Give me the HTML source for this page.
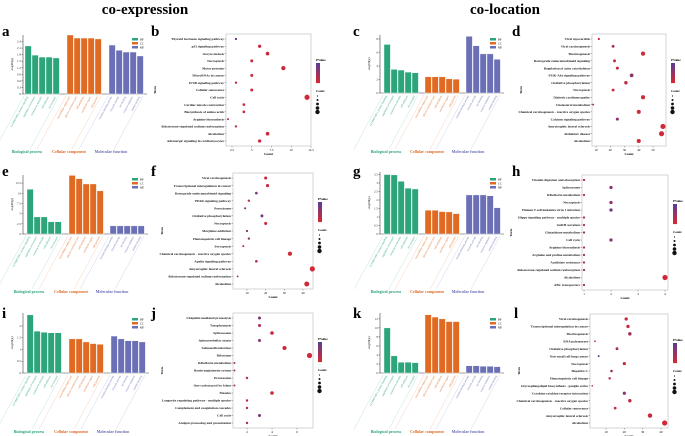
<!DOCTYPE html>
<html><head><meta charset="utf-8"><style>
html,body{margin:0;padding:0;background:#fff;}
svg{display:block;font-family:"Liberation Serif",serif;}
</style></head><body>
<svg id="fig" width="685" height="436" viewBox="0 0 685 436">
<text x="145" y="14" font-size="15" font-weight="bold" text-anchor="middle">co-expression</text>
<text x="505" y="14" font-size="15" font-weight="bold" text-anchor="middle">co-location</text>
</svg>
<script>
// ---- bar chart data (-log10 p) ----
const aBP=[2.2,1.78,1.69,1.69,1.65], aCC=[2.7,2.56,2.56,2.56,2.52], aMF=[2.24,2.0,1.92,1.92,1.74];
const cBP=[7.2,3.5,3.4,3.1,3.0], cCC=[2.4,2.4,2.4,2.1,2.05], cMF=[8.4,7.0,5.8,5.8,5.0];
const eBP=[11,4.2,4.2,3.0,3.0], eCC=[14.4,13.6,12.3,12.3,10.6], eMF=[2.0,2.0,2.0,2.0,2.0];
const gBP=[3.5,3.48,3.1,2.7,2.65], gCC=[1.4,1.4,1.32,1.3,1.2], gMF=[2.3,2.3,2.3,2.25,1.55];
const iBP=[2.47,1.78,1.73,1.71,1.71], iCC=[1.45,1.45,1.32,1.25,1.22], iMF=[1.57,1.45,1.37,1.37,1.32];
const kBP=[10,3.8,2.4,2.4,2.3], kCC=[12.9,12.4,12,11.4,11.4], kMF=[1.6,1.6,1.5,1.5,1.4];
const aTicks=[0,0.3,0.6,0.9,1.2,1.5,1.8,2.1,2.4], cTicks=[0,2,4,6,8], eTicks=[0,2.5,5,7.5,10,12.5];
const gTicks=[0,0.5,1,1.5,2,2.5,3,3.5], iTicks=[0,0.5,1,1.5,2], kTicks=[0,2,4,6,8,10,12];
const goBP=["GO:0007186 G protein signaling","regulation of transport","response to stimulus","cell adhesion","ion transport"];
const goCC=["extracellular region part","plasma membrane part","cell periphery","membrane region","cell junction"];
const goMF=["receptor binding activity","channel activity","ion binding","enzyme regulator","protein binding"];
// ---- dot plot data ----
const bTerms=["Thyroid hormone signaling pathway","p53 signaling pathway","Oocyte meiosis","Necroptosis","Motor proteins","MicroRNAs in cancer","ErbB signaling pathway","Cellular senescence","Cell cycle","Cardiac muscle contraction","Biosynthesis of amino acids","Arginine biosynthesis","Aldosterone-regulated sodium reabsorption","Alcoholism","Adrenergic signaling in cardiomyocytes"];
const bCount=[3,6,7,5,9,5,3,5,12,4,4,2,3,7,6];
const bP=[0.9,0.1,0.1,0.1,0.1,0.1,0.15,0.1,0.05,0.1,0.1,0.3,0.15,0.1,0.1];
const bTicks=[2.5,5.0,7.5,10.0,12.5];
const dTerms=["Viral myocarditis","Viral carcinogenesis","Thermogenesis","Retrograde endocannabinoid signaling","Regulation of actin cytoskeleton","PI3K-Akt signaling pathway","Oxidative phosphorylation","Necroptosis","Diabetic cardiomyopathy","Cholesterol metabolism","Chemical carcinogenesis - reactive oxygen species","Calcium signaling pathway","Amyotrophic lateral sclerosis","Alzheimer disease","Alcoholism"];
const dCount=[12,22,43,23,25,35,31,22,43,8,40,25,57,56,40];
const dP=[0.1,0.3,0.05,0.1,0.15,0.6,0.2,0.1,0.05,0.4,0.05,0.6,0.05,0.05,0.05];
const dTicks=[10,20,30,40,50];
const fTerms=["Viral carcinogenesis","Transcriptional misregulation in cancer","Retrograde endocannabinoid signaling","PPAR signaling pathway","Peroxisome","Oxidative phosphorylation","Necroptosis","Morphine addiction","Hematopoietic cell lineage","Ferroptosis","Chemical carcinogenesis - reactive oxygen species","Apelin signaling pathway","Amyotrophic lateral sclerosis","Aldosterone-regulated sodium reabsorption","Alcoholism"];
const fCount=[20,21,15,11,9,18,20,10,11,8,33,15,45,5,42];
const fP=[0.1,0.1,0.7,0.2,0.7,0.8,0.1,0.6,0.5,0.1,0.05,0.3,0.05,0.6,0.05];
const fTicks=[10,20,30,40];
const hTerms=["Vitamin digestion and absorption","Spliceosome","Riboflavin metabolism","Necroptosis","Human T-cell leukemia virus 1 infection","Hippo signaling pathway - multiple species","GnRH secretion","Glutathione metabolism","Cell cycle","Arginine biosynthesis","Arginine and proline metabolism","Antifolate resistance","Aldosterone-regulated sodium reabsorption","Alcoholism","ABC transporters"];
const hCount=[1,2,1,2,2,1,1,1,2,1,1,1,1,4,1];
const hP=[0.3,0.6,0.3,0.6,0.8,0.3,0.3,0.5,0.6,0.3,0.4,0.3,0.4,0.05,0.4];
const hTicks=[1,2,3,4];
const jTerms=["Ubiquitin mediated proteolysis","Toxoplasmosis","Spliceosome","Spinocerebellar ataxia","Salmonella infection","Ribosome","Riboflavin metabolism","Renin-angiotensin system","Proteasome","One carbon pool by folate","Measles","Longevity regulating pathway - multiple species","Complement and coagulation cascades","Cell cycle","Antigen processing and presentation"];
const jCount=[3,3,4,3,5,7,1,1,2,1,4,2,2,3,2];
const jP=[0.7,0.3,0.1,0.6,0.1,0.05,0.4,0.5,0.2,0.5,0.1,0.3,0.3,0.7,0.3];
const jTicks=[2,4,6];
const lTerms=["Viral carcinogenesis","Transcriptional misregulation in cancer","Thermogenesis","RNA polymerase","Oxidative phosphorylation","Non-small cell lung cancer","Necroptosis","Hepatitis C","Hematopoietic cell lineage","Glycosphingolipid biosynthesis - ganglio series","Cytokine-cytokine receptor interaction","Chemical carcinogenesis - reactive oxygen species","Cellular senescence","Amyotrophic lateral sclerosis","Alcoholism"];
const lCount=[21,22,23,4,16,6,20,13,12,2.5,20,23,15,34,42];
const lP=[0.1,0.1,0.4,0.2,0.4,0.9,0.1,0.5,0.2,0.3,0.6,0.2,0.1,0.1,0.05];
const lTicks=[10,20,30,40];

const NS="http://www.w3.org/2000/svg";
const fig=document.getElementById('fig');
function el(tag,attrs,parent){const e=document.createElementNS(NS,tag);for(const k in attrs)e.setAttribute(k,attrs[k]);(parent||fig).appendChild(e);return e;}
const GC=["#2ca57a","#e06a22","#6b6fb5"];
function lerpColor(t){const a=[214,40,50],b=[90,60,150];return "rgb("+a.map((v,i)=>Math.round(v+(b[i]-v)*t)).join(",")+")";}

function letter(ch,x,y){const t=el('text',{x:x,y:y,'font-size':15,'font-weight':'bold'});t.textContent=ch;

}

function barPanel(id,ax,base,top,max,ticks,gx,series,legX,legY,glY){
  const g=el('g',{});
  
  
  const yS=v=>base-(v/max)*(base-top);
  el('line',{x1:ax,y1:top,x2:ax,y2:base,stroke:'#444','stroke-width':0.6},g);
  el('line',{x1:ax,y1:base,x2:gx[2]+38,y2:base,stroke:'#444','stroke-width':0.6},g);
  ticks.forEach(t=>{const y=yS(t);el('line',{x1:ax-1.5,y1:y,x2:ax,y2:y,stroke:'#444','stroke-width':0.5},g);
    const tx=el('text',{x:ax-2,y:y+1,'font-size':3.2,'text-anchor':'end',fill:'#333'},g);tx.textContent=t;});
  const yt=el('text',{x:ax-10,y:(top+base)/2,'font-size':3.5,'text-anchor':'middle',transform:'rotate(-90 '+(ax-10)+' '+(top+base)/2+')'},g);yt.textContent='-log10(p)';
  
  
  const labs=[goBP,goCC,goMF], gl=["Biological process","Cellular component","Molecular function"];
  series.forEach((vals,gi)=>{
    vals.forEach((v,i)=>{const x=gx[gi]+i*7;const y=yS(v);
      const r=el('rect',{x:x,y:y,width:6.4,height:base-y,fill:GC[gi],stroke:'#fff','stroke-width':0.4},g);
      
      
      const cx=x+3;const t=el('text',{x:cx,y:base+3,'font-size':2.6,'text-anchor':'end',fill:GC[gi],transform:'rotate(-62 '+cx+' '+(base+3)+')'},g);t.textContent=labs[gi][i];
    });
    el('line',{x1:gx[gi]-1,y1:base+2,x2:gx[gi]-30,y2:glY-4,stroke:GC[gi],'stroke-width':0.3,opacity:0.5},g);
    el('line',{x1:gx[gi]+34,y1:base+2,x2:gx[gi]+5,y2:glY-4,stroke:GC[gi],'stroke-width':0.3,opacity:0.5},g);
    const lt=el('text',{x:gx[gi]+2,y:glY,'font-size':4,'text-anchor':'middle',fill:GC[gi],'font-weight':'bold'},g);lt.textContent=gl[gi];
    
    
    el('rect',{x:legX,y:legY+gi*4,width:6,height:2.5,fill:GC[gi]},g);
    const lg=el('text',{x:legX+8,y:legY+gi*4+2.4,'font-size':2.8},g);lg.textContent=["BP","CC","MF"][gi];
  });
}

function dotPanel(id,x1,x2,y1,y2,terms,counts,pv,ticks,t0,p0,t1,p1){
  const g=el('g',{});
  
  
  const xS=v=>p0+(v-t0)*(p1-p0)/(t1-t0);
  const n=terms.length, yS=i=>y1+5+i*(y2-y1-10)/(n-1);
  el('rect',{x:x1,y:y1,width:x2-x1,height:y2-y1,fill:'#fff',stroke:'#ccc','stroke-width':0.8},g);
  const maxC=Math.max.apply(null,counts);
  terms.forEach((t,i)=>{const y=yS(i);
    el('line',{x1:x1-1.5,y1:y,x2:x1,y2:y,stroke:'#555','stroke-width':0.4},g);
    const tx=el('text',{x:x1-2,y:y+1.2,'font-size':3.4,'text-anchor':'end','font-weight':'bold',fill:'#222'},g);tx.textContent=t;
    const c=el('circle',{cx:xS(counts[i]),cy:y,r:0.7+1.9*counts[i]/maxC,fill:lerpColor(pv[i])},g);
    
    
  });
  ticks.forEach(t=>{const x=xS(t);el('line',{x1:x,y1:y2,x2:x,y2:y2+1.5,stroke:'#555','stroke-width':0.4},g);
    const tx=el('text',{x:x,y:y2+5,'font-size':3.2,'text-anchor':'middle'},g);tx.textContent=t;});
  const ct=el('text',{x:(x1+x2)/2,y:y2+9,'font-size':3.4,'text-anchor':'middle','font-weight':'bold'},g);ct.textContent='Count';
  const ty=(y1+y2)/2;const tt=el('text',{x:x1-70,y:ty,'font-size':3.4,'text-anchor':'middle','font-weight':'bold',transform:'rotate(-90 '+(x1-70)+' '+ty+')'},g);tt.textContent='Term';
  const lx=x2+5;
  const pt=el('text',{x:lx,y:y1+27,'font-size':3.2,'font-weight':'bold'},g);pt.textContent='PValue';
  for(let k=0;k<20;k++)el('rect',{x:lx,y:y1+29+k,width:4,height:1.1,fill:lerpColor(1-k/19)},g);
  const cl=el('text',{x:lx,y:y1+58,'font-size':3.2,'font-weight':'bold'},g);cl.textContent='Count';
  for(let k=0;k<5;k++){el('circle',{cx:lx+1.5,cy:y1+62+k*4,r:0.6+0.4*k,fill:'#111'},g);}
}

letter('a',2,36);letter('b',151,36);letter('c',353,36);letter('d',512,36);
letter('e',2,176);letter('f',151,176);letter('g',353,176);letter('h',512,176);
letter('i',2,318);letter('j',151,318);letter('k',353,318);letter('l',514,318);

barPanel('a',23,94,35,2.7,aTicks,[25,67,109],[aBP,aCC,aMF],132,38,153);
barPanel('c',380,93,35,8.6,cTicks,[384,425,466],[cBP,cCC,cMF],490,38,153);
barPanel('e',23,234,175,14.5,eTicks,[27,69,110],[eBP,eCC,eMF],132,178,293);
barPanel('g',380,234,172,3.65,gTicks,[384,425,466],[gBP,gCC,gMF],490,178,293);
barPanel('i',23,373,313,2.55,iTicks,[27,69,111],[iBP,iCC,iMF],132,318,433);
barPanel('k',380,373,313,13.3,kTicks,[384,425,466],[kBP,kCC,kMF],490,318,433);

dotPanel('b',226,311,34,146,bTerms,bCount,bP,bTicks,2.5,232,12.5,311);
dotPanel('d',592,666,34,146,dTerms,dCount,dP,dTicks,10,596,50,653);
dotPanel('f',233,313,173,289,fTerms,fCount,fP,fTicks,10,247,40,303);
dotPanel('h',582,668,175,290,hTerms,hCount,hP,hTicks,1,584,4,665);
dotPanel('j',233,313,313,428,jTerms,jCount,jP,jTicks,2,247,6,297);
dotPanel('l',590,668,314,428,lTerms,lCount,lP,lTicks,10,606,40,661);
</script>
</body></html>
